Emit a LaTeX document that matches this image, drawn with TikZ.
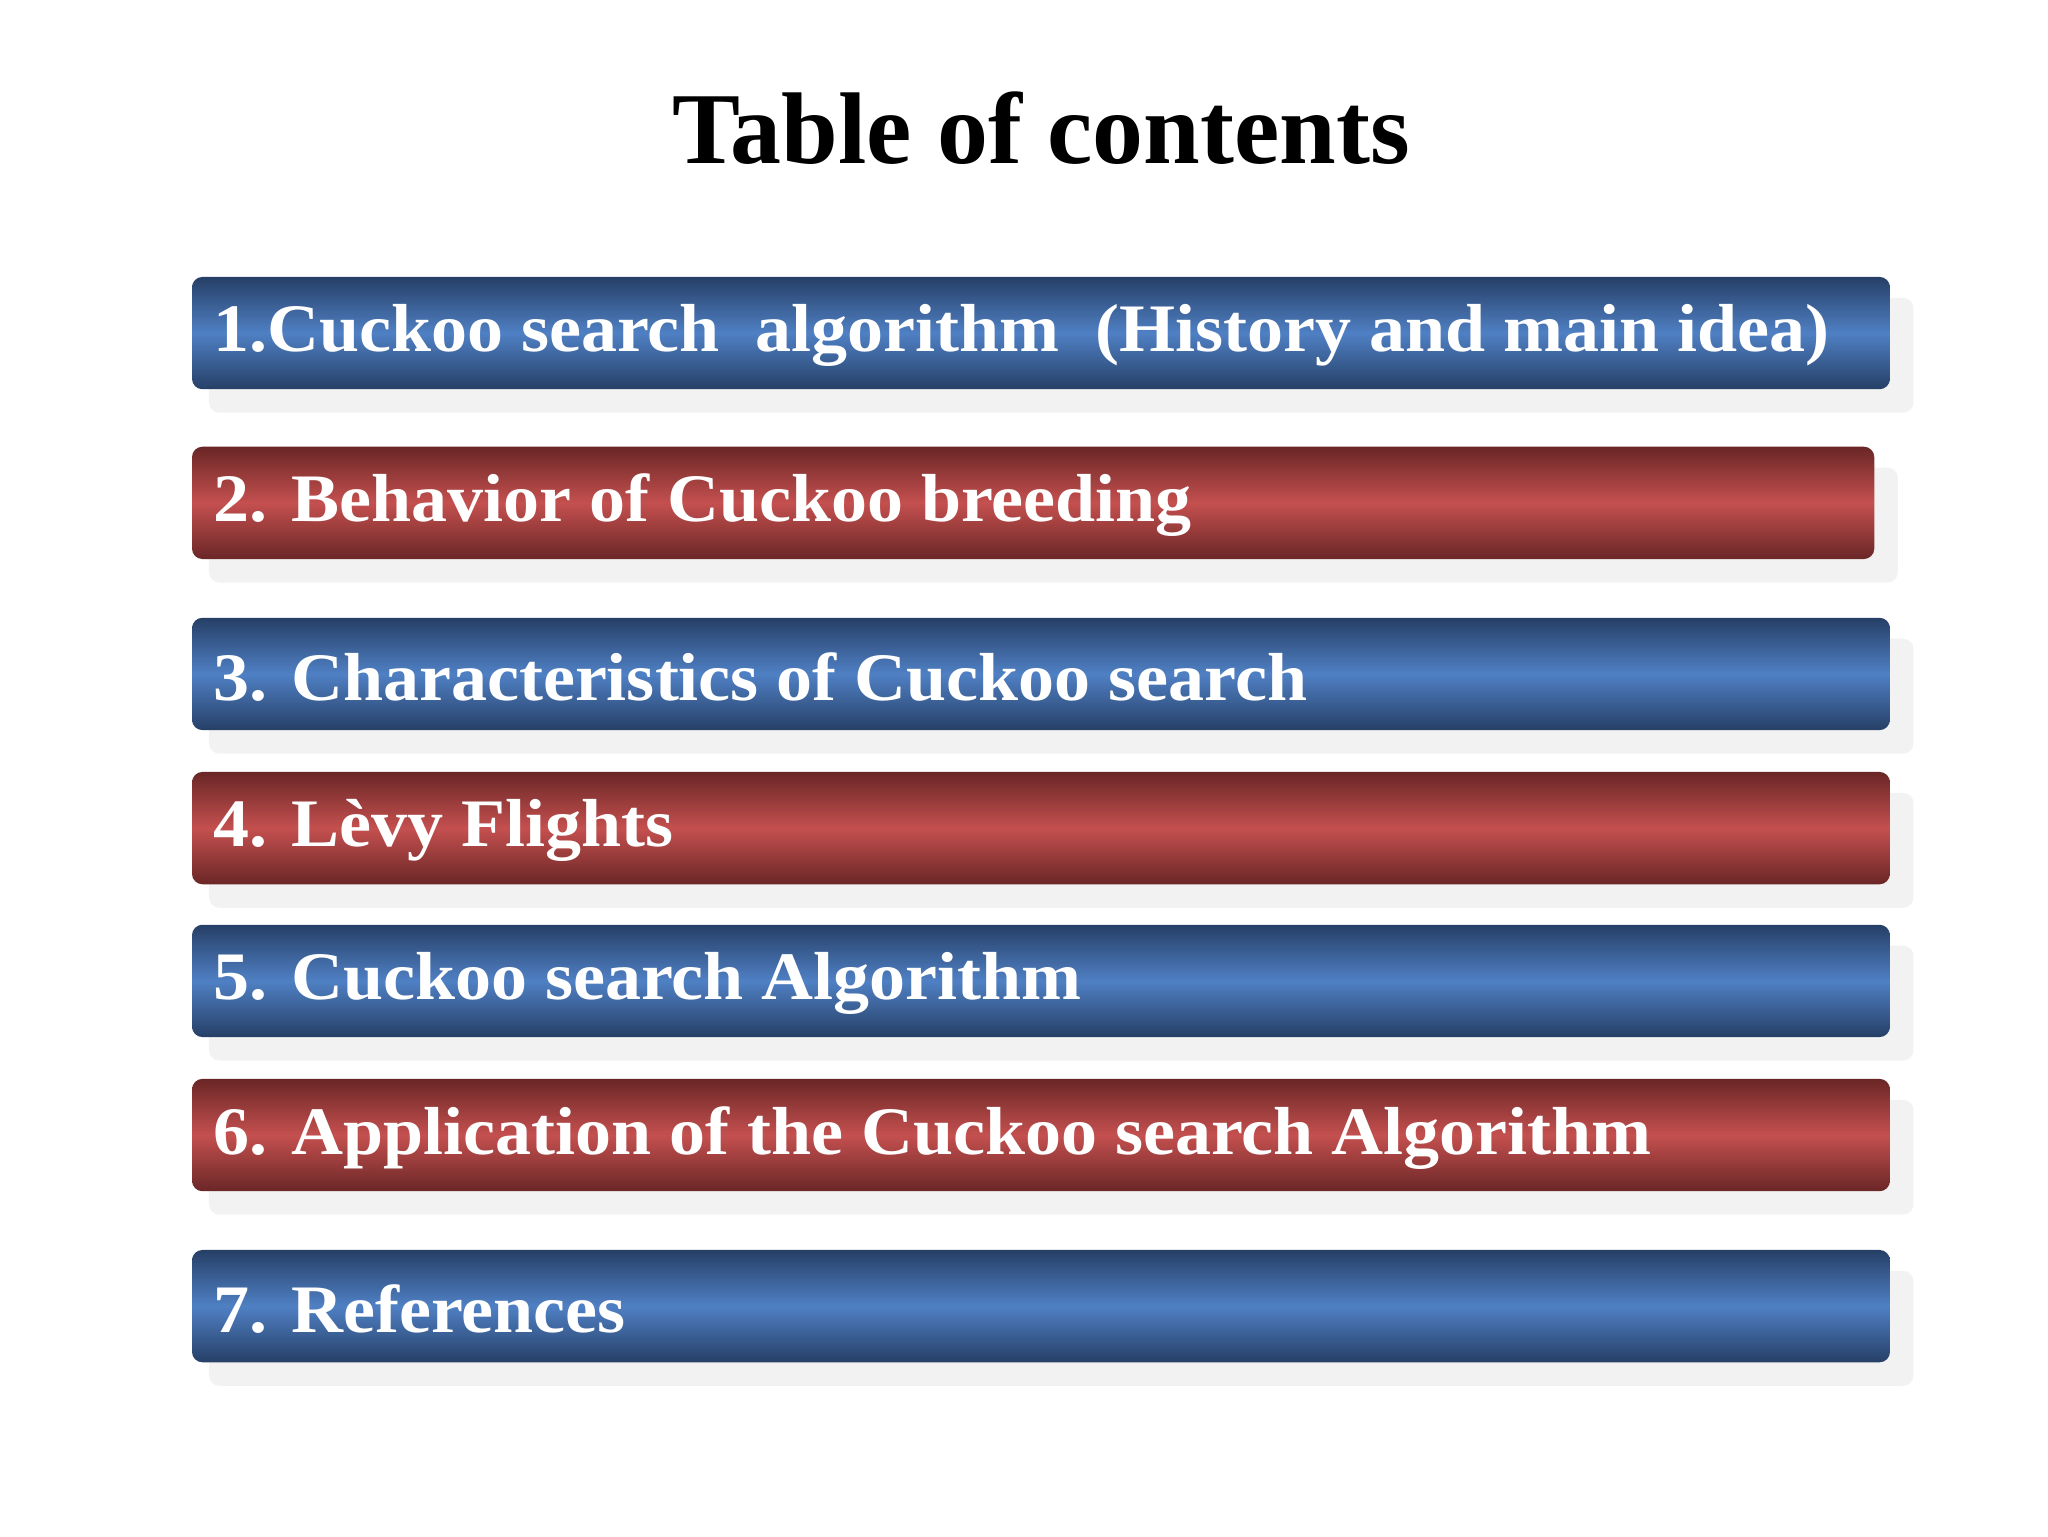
\documentclass[tikz,border=0pt]{standalone}
\usepackage{fontspec}
\setmainfont{Liberation Serif}
\definecolor{bdark}{HTML}{263F66}
\definecolor{bmid}{HTML}{4F80C4}
\definecolor{rdark}{HTML}{6A2626}
\definecolor{rmid}{HTML}{C4504F}
\tikzset{
 bar/.style={rounded corners=8pt, inner sep=0pt},
 bluebar/.style={bar, top color=bdark, bottom color=bdark, middle color=bmid},
 redbar/.style={bar, top color=rdark, bottom color=rdark, middle color=rmid},
 shad/.style={rounded corners=8pt, fill=black!5},
 lbl/.style={anchor=west, text=white, font=\fontsize{52}{56}\selectfont\bfseries, inner sep=0pt, xscale=1.06}
}
\begin{document}
\begin{tikzpicture}[x=1pt,y=-1pt]
\useasboundingbox (0,0) rectangle (1568,1176);
\node (title) at (797,98) {\fontsize{78}{86}\selectfont\bfseries Table of contents};
\foreach \i/\t/\r/\s/\txt in {
 1/212/1447/bluebar/{1.Cuckoo search\ \ algorithm\ \ (History and main idea)},
 2/342/1435/redbar/{2. Behavior of Cuckoo breeding},
 3/473/1447/bluebar/{3. Characteristics of Cuckoo search},
 4/591/1447/redbar/{4. Lèvy Flights},
 5/708/1447/bluebar/{5. Cuckoo search Algorithm},
 6/826/1447/redbar/{6. Application of the Cuckoo search Algorithm},
 7/957/1447/bluebar/{7. References}}{
 \fill[shad] (160,\t+16) rectangle (\r+18,\t+104);
 \path[\s] (147,\t) rectangle (\r,\t+86);
 \coordinate (b\i) at (163,\t+45);
 \node[lbl] (l\i) at (b\i) {\txt};
}
\end{tikzpicture}
\end{document}
